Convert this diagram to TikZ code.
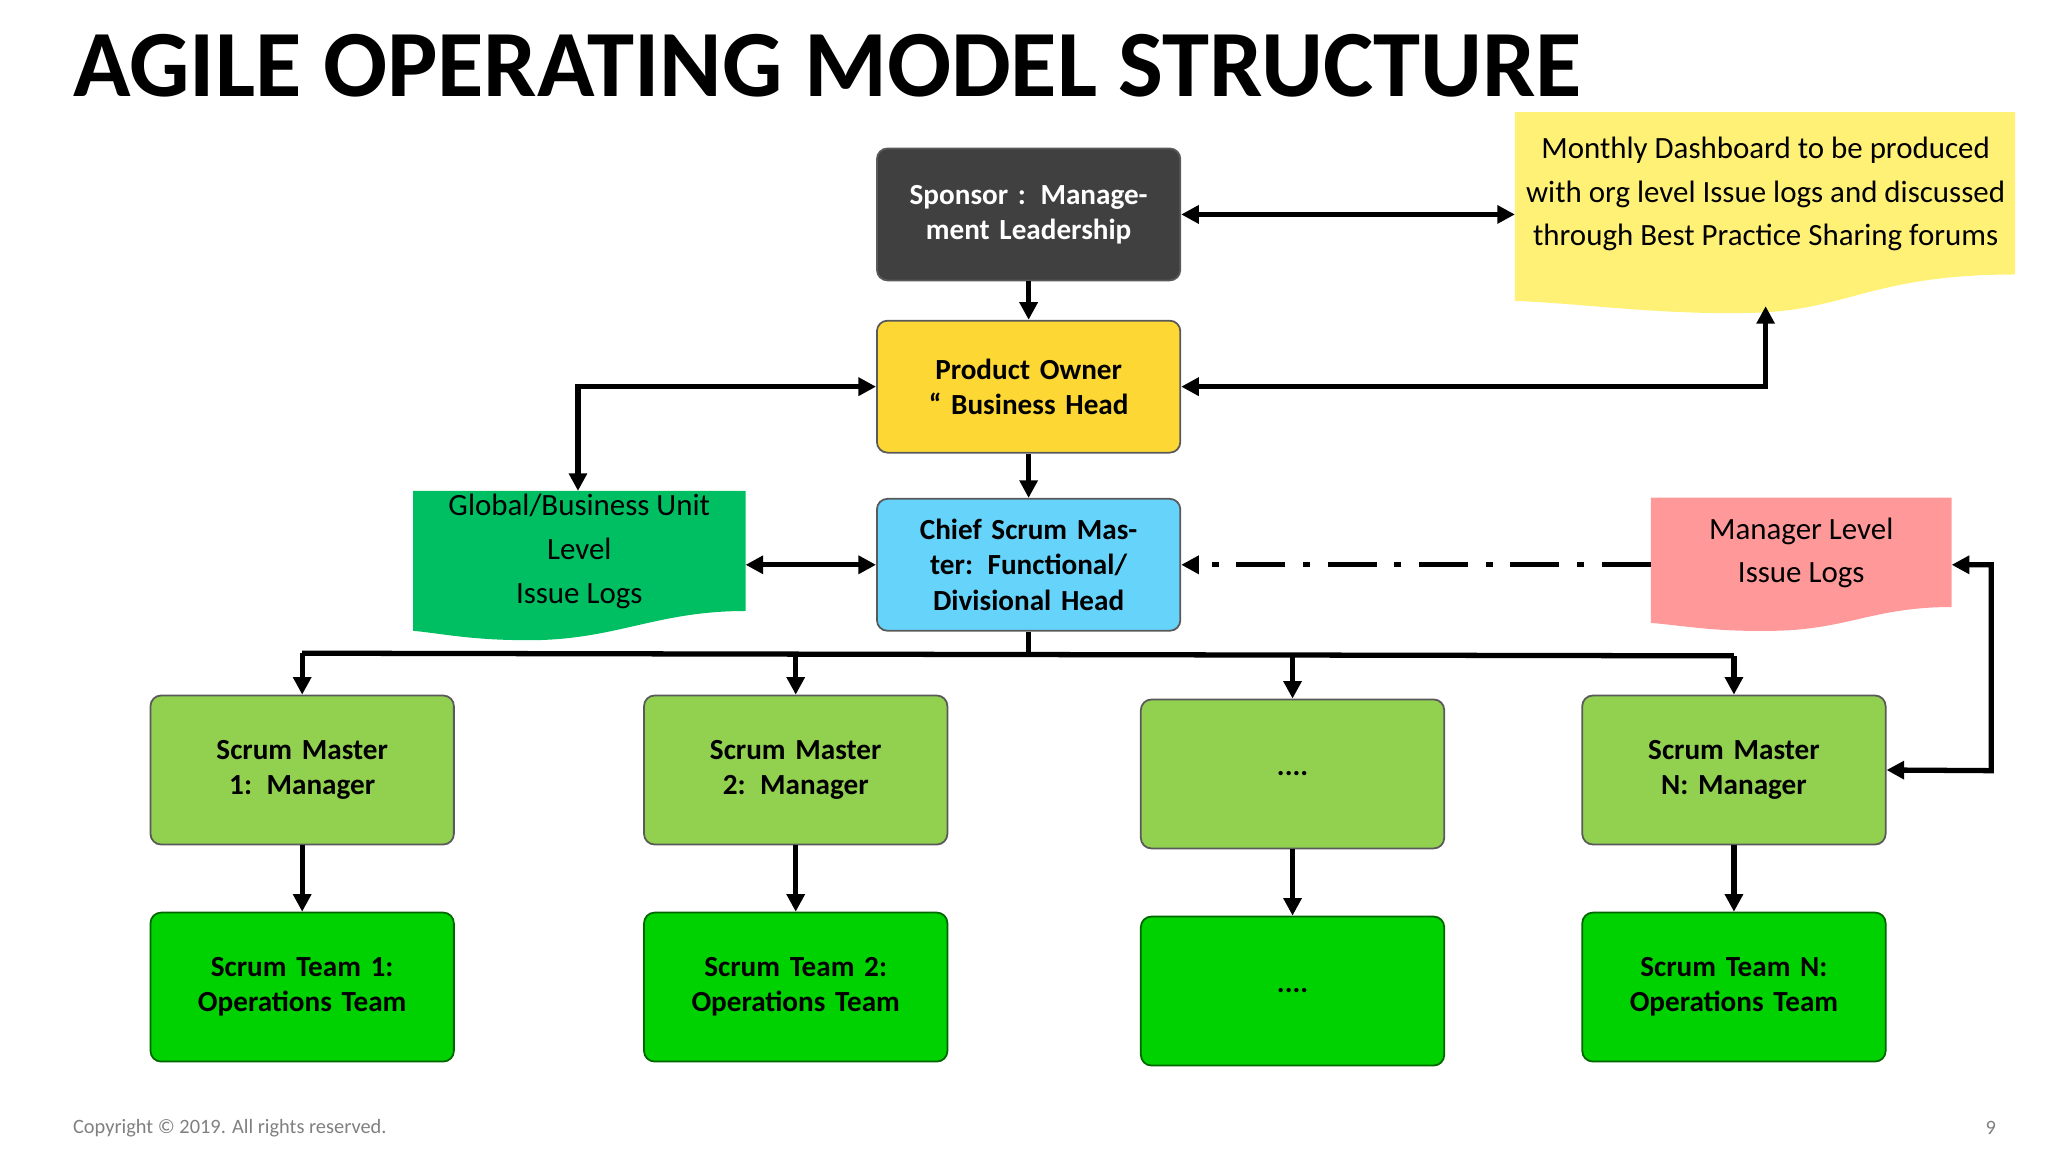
\documentclass[tikz,border=0pt]{standalone}
\usepackage{fontspec}
\setmainfont{Carlito}
\usetikzlibrary{arrows.meta}
\definecolor{dark}{HTML}{404040}
\definecolor{po}{HTML}{FDD835}
\definecolor{csm}{HTML}{66D3FA}
\definecolor{note}{HTML}{FFF176}
\definecolor{glob}{HTML}{00BF63}
\definecolor{pink}{HTML}{FF9999}
\definecolor{sm}{HTML}{92D050}
\definecolor{team}{HTML}{00D100}
\newcommand\myfourdots{....}
\begin{document}
\begin{tikzpicture}[x=0.0132cm,y=-0.0132cm,
  box/.style={draw=gray!70!black,line width=0.5pt,rounded corners=3pt,minimum width=3cm,text width=2.8cm,align=center,font=\bfseries\fontsize{8.3}{10}\selectfont,minimum height=1.32cm},
  smb/.style={box,fill=sm,minimum height=1.49cm},
  tmb/.style={box,fill=team,draw=green!40!black,minimum height=1.49cm},
  arr/.style={line width=1.5pt,-{Triangle[length=5pt,width=5pt]}},
  darr/.style={line width=1.5pt,{Triangle[length=5pt,width=5pt]}-{Triangle[length=5pt,width=5pt]}},
  doc/.style={align=center,font=\fontsize{8.8}{12.5}\selectfont}]
\useasboundingbox (0,0) rectangle (1552,873);
\node[anchor=west,font=\bfseries\fontsize{27}{30}\selectfont] (title) at (46,50) {AGILE OPERATING MODEL STRUCTURE};
\node[box,fill=dark,text=white] (sp) at (779.5,162.5) {Sponsor : Management Leadership};
\node[box,fill=po] (po) at (779.5,293) {Product Owner “ Business Head};
\node[box,fill=csm] (csm) at (779.5,428) {Chief Scrum Master: Functional/ Divisional Head};
% documents
\fill[note] (1148,85) -- (1527,85) -- (1527,208) .. controls (1420,208) and (1400,235) .. (1330,237) .. controls (1260,239) and (1200,230) .. (1148,228) -- cycle;
\node[doc] (mon) at (1338,147) {Monthly Dashboard to be produced\\with org level Issue logs and discussed\\through Best Practice Sharing forums};
\coordinate (monb) at (1338,232);
\fill[glob] (313,372) -- (565,372) -- (565,463) .. controls (500,463) and (470,483) .. (410,485) .. controls (360,486) and (335,480) .. (313,478) -- cycle;
\node[doc] (gl) at (439,418) {Global/Business Unit\\Level\\Issue Logs};
\coordinate (glt) at (438,372);
\fill[pink] (1251,377) -- (1479,377) -- (1479,460) .. controls (1420,460) and (1400,477) .. (1345,478) .. controls (1300,479) and (1275,474) .. (1251,472) -- cycle;
\node[doc] (ml) at (1365,419) {Manager Level\\Issue Logs};
% scrum masters and teams
\foreach \n/\x/\yo/\t in {1/229/0/Scrum Master 1: Manager,2/603/0/Scrum Master 2: Manager,3/979.5/3/\myfourdots,4/1314/0/Scrum Master N: Manager}{
  \node[smb] (sm\n) at (\x,583.5+\yo) {\t};
}
\foreach \n/\x/\yo/\t in {1/229/0/Scrum Team 1: Operations Team,2/603/0/Scrum Team 2: Operations Team,3/979.5/3/\myfourdots,4/1314/0/Scrum Team N: Operations Team}{
  \node[tmb] (tm\n) at (\x,748+\yo) {\t};
  \draw[arr] (sm\n) -- (tm\n);
}
% connectors
\draw[arr] (sp) -- (po);
\draw[arr] (po) -- (csm);
\draw[darr] (sp.east) -- (1148,162.5);
\draw[darr] (po.east) -- (1338,293) -- (monb);
\draw[darr] (po.west) -- (438,293) -- (glt);
\draw[darr] (565,428) -- (csm.west);
\draw[arr,dash pattern=on 14pt off 5pt on 2pt off 5pt] (1251,428) -- (csm.east);
\draw[darr] (1479,428) -- (1509,428) -- (1509,584) -- (sm4.east);
\coordinate (bus) at (779.5,495);
\draw[line width=1.5pt] (csm.south) -- (bus);
\draw[line width=1.5pt] (229,495) -- (1314,497);
\foreach \n/\x/\y in {1/229/495,2/603/495,3/979.5/496,4/1314/497}{
  \draw[arr] (\x,\y) -- (sm\n.north);
}
\node[anchor=west,text=gray,font=\fontsize{5.8}{7}\selectfont] (copy) at (46,855) {Copyright © 2019. All rights reserved.};
\node[anchor=east,text=gray,font=\fontsize{5.8}{7}\selectfont] (pg) at (1522,855) {9};
\end{tikzpicture}
\end{document}
